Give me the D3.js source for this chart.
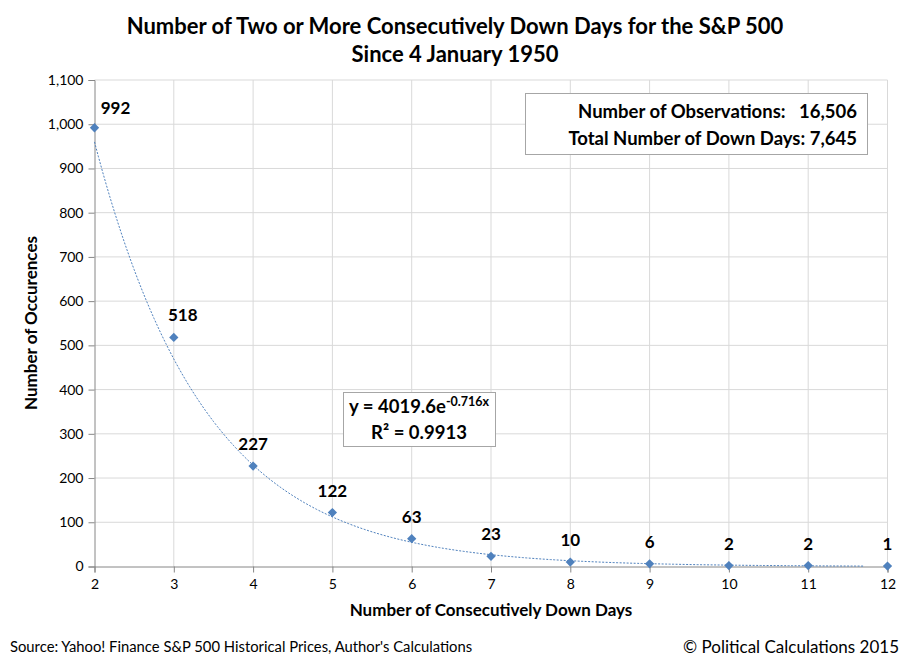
<!DOCTYPE html>
<html>
<head>
<meta charset="utf-8">
<script src="https://cdn.jsdelivr.net/npm/d3@7"></script>
<style>
  body { margin: 0; background: #fff; }
  text { font-family: Lato, "Open Sans", sans-serif; }
</style>
</head>
<body>
<svg width="911" height="661"></svg>
<script>
const svg = d3.select("svg")

// data
const days = [2, 3, 4, 5, 6, 7, 8, 9, 10, 11, 12]
const occurrences = [992, 518, 227, 122, 63, 23, 10, 6, 2, 2, 1]
const yTicks = [0, 100, 200, 300, 400, 500, 600, 700, 800, 900, 1000, 1100]
const xTicks = [2, 3, 4, 5, 6, 7, 8, 9, 10, 11, 12]
const fitA = 4019.6
const fitB = -0.716
const fitEnd = 11.7

const x = d3.scaleLinear().domain([2, 12]).range([94.5, 887.5])
const y = d3.scaleLinear().domain([0, 1100]).range([566.5, 80])

// gridlines
svg.append("g")
  .selectAll("line.h")
  .data(yTicks.slice(1))
  .enter().append("line")
  .attr("x1", x(2)).attr("x2", x(12))
  .attr("y1", d => y(d)).attr("y2", d => y(d))
  .attr("stroke", "#d9d9d9")

svg.append("g")
  .selectAll("line.v")
  .data(xTicks.slice(1))
  .enter().append("line")
  .attr("x1", d => x(d)).attr("x2", d => x(d))
  .attr("y1", y(0)).attr("y2", y(1100))
  .attr("stroke", "#d9d9d9")

// axes
const yAxis = d3.axisLeft(y).tickValues(yTicks).tickSize(6).tickPadding(5).tickFormat(d3.format(","))
const xAxis = d3.axisBottom(x).tickValues(xTicks).tickSize(6).tickPadding(7).tickFormat(d3.format("d"))

const gy = svg.append("g").attr("transform", `translate(${x(2)},0)`).call(yAxis)
const gx = svg.append("g").attr("transform", `translate(0,${y(0)})`).call(xAxis)
;[gy, gx].forEach(g => {
  g.select(".domain").attr("stroke", "#868686")
  g.selectAll(".tick line").attr("stroke", "#868686")
  g.selectAll(".tick text").attr("fill", "#000").style("font-size", "14px").style("font-family", "Lato, sans-serif")
})

// trendline
const fitX = d3.range(2, fitEnd + 0.001, 0.05)
svg.append("path")
  .datum(fitX)
  .attr("fill", "none")
  .attr("stroke", "#4f81bd")
  .attr("stroke-width", 1)
  .attr("stroke-dasharray", "2,1.5")
  .attr("d", d3.line().x(d => x(d)).y(d => y(fitA * Math.exp(fitB * d))))

// markers
const pts = days.map((d, i) => ({ d: d, v: occurrences[i] }))
svg.append("g")
  .selectAll("path")
  .data(pts)
  .enter().append("path")
  .attr("d", d3.symbol().type(d3.symbolDiamond2).size(55))
  .attr("transform", p => `translate(${x(p.d)},${y(p.v)})`)
  .attr("fill", "#4f81bd")

// data labels
svg.append("g")
  .selectAll("text")
  .data(pts)
  .enter().append("text")
  .attr("x", (p, i) => x(p.d) + (i == 0 ? 21 : i == 1 ? 9 : 0))
  .attr("y", (p, i) => y(p.v) - (i == 0 ? 14 : 16))
  .attr("text-anchor", "middle")
  .style("font-size", "17px")
  .style("font-weight", "bold")
  .text(p => p.v)

// titles
const title = svg.append("text")
  .attr("text-anchor", "middle")
  .style("font-size", "22px")
  .style("font-weight", "bold")
title.append("tspan").attr("x", 455).attr("y", 34).text("Number of Two or More Consecutively Down Days for the S&P 500")
title.append("tspan").attr("x", 455).attr("y", 62).text("Since 4 January 1950")

svg.append("text")
  .attr("transform", "translate(37,323) rotate(-90)")
  .attr("text-anchor", "middle")
  .style("font-size", "17px")
  .style("font-weight", "bold")
  .text("Number of Occurences")

svg.append("text")
  .attr("x", 491).attr("y", 616)
  .attr("text-anchor", "middle")
  .style("font-size", "17px")
  .style("font-weight", "bold")
  .text("Number of Consecutively Down Days")

svg.append("text")
  .attr("x", 10).attr("y", 652)
  .style("font-size", "14.8px")
  .text("Source: Yahoo! Finance S&P 500 Historical Prices, Author's Calculations")

svg.append("text")
  .attr("x", 899).attr("y", 653)
  .attr("text-anchor", "end")
  .style("font-size", "17px")
  .text("© Political Calculations 2015")

// info box
svg.append("rect")
  .attr("x", 525.5).attr("y", 93.5).attr("width", 342).attr("height", 61)
  .attr("fill", "#fff").attr("stroke", "#a6a6a6")
const info = svg.append("text")
  .attr("text-anchor", "end")
  .style("font-size", "18.5px")
  .style("font-weight", "bold")
  .style("white-space", "pre")
info.append("tspan").attr("x", 857).attr("y", 118).text("Number of Observations:   16,506")
info.append("tspan").attr("x", 857).attr("y", 145).text("Total Number of Down Days: 7,645")

// equation box
svg.append("rect")
  .attr("x", 343.5).attr("y", 392.5).attr("width", 152).attr("height", 54)
  .attr("fill", "#fff").attr("stroke", "#a6a6a6")
const eq = svg.append("text")
  .attr("x", 419).attr("y", 413)
  .attr("text-anchor", "middle")
  .style("font-size", "18.5px")
  .style("font-weight", "bold")
eq.append("tspan").text("y = " + fitA + "e")
eq.append("tspan").attr("dy", -7).style("font-size", "12.5px").text(fitB + "x")
svg.append("text")
  .attr("x", 419).attr("y", 439)
  .attr("text-anchor", "middle")
  .style("font-size", "18.5px")
  .style("font-weight", "bold")
  .text("R² = 0.9913")
</script>
</body>
</html>
